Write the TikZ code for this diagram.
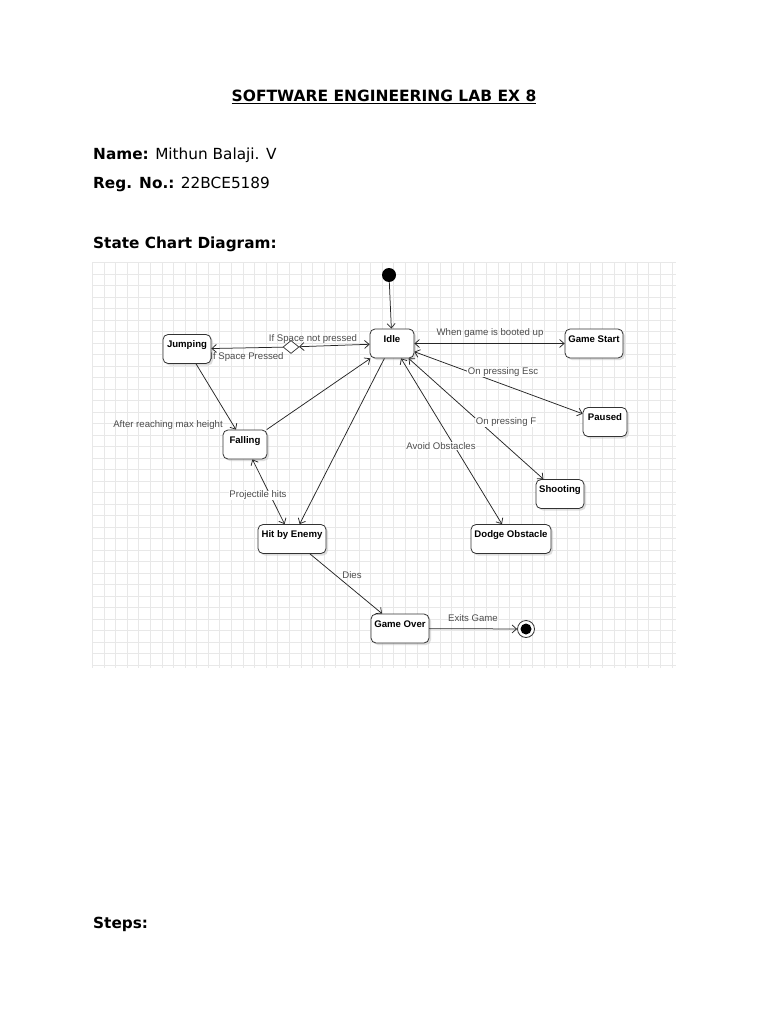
\documentclass[tikz,border=0pt]{standalone}
\usepackage{fontspec}
\setmainfont{DejaVu Sans}
\newfontfamily\arialf{Liberation Sans}
\usetikzlibrary{arrows.meta,shapes.geometric,shadows}
\begin{document}
\begin{tikzpicture}[x=1pt,y=-1pt,
  gridline/.style={draw=black!9, line width=0.6pt},
  state/.style={draw=black!80, line width=0.8pt, rounded corners=5pt, fill=white,
    font=\arialf\bfseries\fontsize{9.6}{11}\selectfont,
    text height=9pt, text depth=12pt, inner ysep=4pt, inner xsep=2pt,
    drop shadow={shadow xshift=2pt, shadow yshift=-2pt, fill=black!25, opacity=0.5}},
  elabel/.style={font=\arialf\fontsize{9.6}{11}\selectfont, text=black!70, inner sep=0.5pt},
  wbg/.style={fill=white},
  tr/.style={draw=black!85, line width=0.75pt, -{Straight Barb[length=4.5pt,width=8pt]}},
  trb/.style={draw=black!85, line width=0.75pt, {Straight Barb[length=4.5pt,width=8pt]}-{Straight Barb[length=4.5pt,width=8pt]}},
  pagetext/.style={font=\fontsize{15.3}{18}\selectfont, anchor=base west, inner sep=0pt}
]
\useasboundingbox (0,0) rectangle (768,1024);
\fill[white] (0,0) rectangle (768,1024);

% header texts
\node[font=\fontsize{15.5}{18}\selectfont\bfseries, anchor=base, inner sep=0pt] (title) at (384,102) {\underline{SOFTWARE ENGINEERING LAB EX 8}};
\node[pagetext] (name) at (93,160) {\textbf{Name:} Mithun Balaji. V};
\node[pagetext] (reg) at (93,189) {\textbf{Reg. No.:} 22BCE5189};
\node[pagetext] (scd) at (93,248) {\textbf{State Chart Diagram:}};
\node[pagetext] (steps) at (93,928) {\textbf{Steps:}};

% grid
\foreach \i in {0,...,50} \draw[gridline] (92.3+11.59*\i,262) -- (92.3+11.59*\i,668);
\foreach \j in {0,...,35} \draw[gridline] (92,262.3+11.5*\j) -- (676,262.3+11.5*\j);

% states
\node[circle, fill=black, minimum size=14pt, inner sep=0pt] (init) at (389,275) {};
\node[state, minimum width=44pt] (idle) at (392,343.5) {Idle};
\node[state, minimum width=58pt] (gs) at (594,343.5) {Game Start};
\node[state, minimum width=44pt] (paused) at (605,422) {Paused};
\node[state, minimum width=48pt] (jump) at (187,349) {Jumping};
\node[state, minimum width=44pt] (fall) at (245,444.5) {Falling};
\node[state, minimum width=68pt] (hit) at (292,539) {Hit by Enemy};
\node[state, minimum width=48pt] (shoot) at (560,494) {Shooting};
\node[state, minimum width=80pt] (dodge) at (511,539) {Dodge Obstacle};
\node[state, minimum width=58pt] (over) at (400,628.5) {Game Over};
\node[diamond, draw=black!80, line width=0.7pt, fill=white, minimum width=16pt, minimum height=13pt, inner sep=0pt] (dia) at (291,347) {};
\node[circle, draw=black!80, line width=0.8pt, fill=white, minimum size=17pt, inner sep=0pt] (fin) at (526,629) {};
\node[circle, fill=black, minimum size=11pt, inner sep=0pt] (finin) at (526,629) {};

% transitions
\draw[tr] (init) -- (idle);
\draw[trb] (idle) -- (gs);
\draw[trb] (idle) -- (paused);
\draw[trb] (idle) -- (shoot);
\draw[trb] (idle) -- (dodge);
\draw[tr] (idle) -- (hit);
\draw[tr] (fall) -- (idle);
\draw[trb] (dia) -- (idle);
\draw[tr] (dia) -- (jump);
\draw[tr] (jump) -- (fall);
\draw[trb] (fall) -- (hit);
\draw[tr] (hit) -- (over);
\draw[tr] (over) -- (fin);

% labels
\node[elabel] (l1) at (490,333) {When game is booted up};
\node[elabel, wbg] (l2) at (503,372.5) {On pressing Esc};
\node[elabel, wbg] (l3) at (506,422.5) {On pressing F};
\node[elabel, wbg] (l4) at (441,446) {Avoid Obstacles};
\node[elabel] (l5) at (313,339) {If Space not pressed};
\node[elabel] (l6) at (247,357.5) {If Space Pressed};
\node[elabel] (l7) at (168,425.5) {After reaching max height};
\node[elabel, wbg] (l8) at (258,495.5) {Projectile hits};
\node[elabel] (l9) at (352,575.5) {Dies};
\node[elabel] (l10) at (473,618.5) {Exits Game};
\end{tikzpicture}
\end{document}
